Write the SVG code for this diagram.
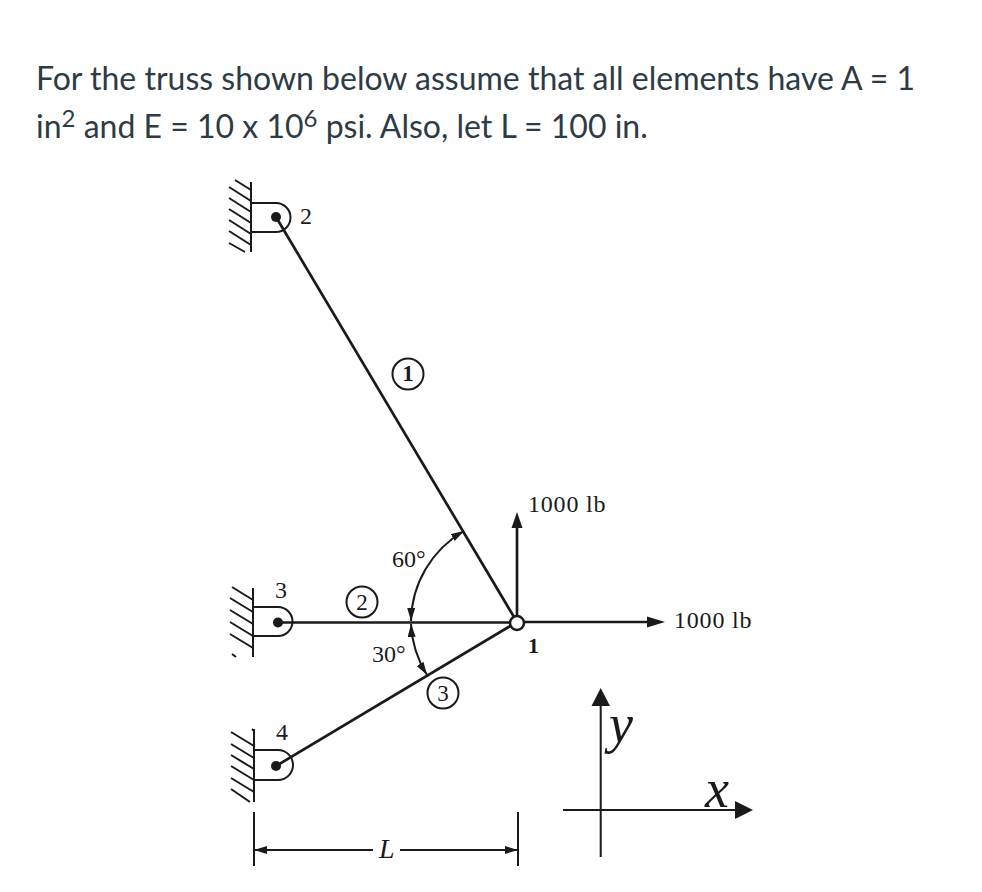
<svg xmlns="http://www.w3.org/2000/svg" width="982" height="892" viewBox="0 0 982 892">
<style>
.h{font-family:Lato,"Liberation Sans",sans-serif;font-size:32px;fill:#2d3b45}
.s{font-family:"Liberation Serif",serif;fill:#1a1a1a}
.n{font-size:24px}
.c{font-size:23px;text-anchor:middle}
.i{font-style:italic}
.l{fill:none;stroke:#1a1a1a;stroke-width:2.700}
.t{fill:none;stroke:#1a1a1a;stroke-width:2}
.o{fill:#fff;stroke:#1a1a1a;stroke-width:2.500}
.a{fill:#1a1a1a;stroke:none}
.hatch{stroke:#1a1a1a;stroke-width:2;fill:none}
</style>
<defs>
<marker id="ah" markerWidth="14" markerHeight="10" refX="13" refY="4" orient="auto-start-reverse" markerUnits="userSpaceOnUse"><path d="M0 0L13 4L0 8z" fill="#1a1a1a"/></marker>
</defs>
<rect width="982" height="892" fill="#fff"/>
<g id="title">
<text class="h" x="36" y="90">For the truss shown below assume that all elements have A = 1</text>
<text class="h" x="36" y="138">in<tspan font-size="24" dy="-11">2</tspan><tspan dy="11"> and E = 10 x 10</tspan><tspan font-size="24" dy="-11">6</tspan><tspan dy="11"> psi. Also, let L = 100 in.</tspan></text>
</g>
<g id="connectors">
<path class="l" d="M276 217L517 622"/>
<path class="l" d="M278 622.500H517"/>
<path class="l" d="M276 766L517 622"/>
<path class="l" d="M517 622V525"/>
<path class="a" d="M517 512L522.500 528H511.500z"/>
<path class="l" d="M517 622H650"/>
<path class="a" d="M665 622L647 616.500V627.500z"/>
<path class="t" marker-start="url(#ah)" marker-end="url(#ah)" d="M411 621A106 106 0 0 1 464 531"/>
<path class="t" marker-start="url(#ah)" marker-end="url(#ah)" d="M411 624A106 106 0 0 0 427 675"/>
<path class="t" marker-start="url(#ah)" d="M254 850H373"/>
<path class="t" marker-end="url(#ah)" d="M400 850H518"/>
<path class="t" d="M254 812V866M518 812V866"/>
<path class="t" d="M600.700 700V857M563 810H740"/>
<path class="a" d="M600.700 688L610 706H591.500z"/>
<path class="a" d="M753 810L735 801V819z"/>
</g>
<g id="node-2">
<path class="hatch" stroke-width="2.500" d="M251 182V252M235 180L251 190M229 187L251 201M229 198L251 212M229 209L251 223M229 220L251 234M229 231L251 245M229 243L245 252"/>
<path class="t" d="M251 203H276A14.500 14.500 0 0 1 276 232H251"/>
<circle class="a" cx="276" cy="217" r="5"/>
<text class="s n" x="300" y="224" font-size="25">2</text>
</g>
<g id="node-3">
<path class="hatch" d="M253 588V657M232 587L253 600M230 598L253 612M230 610L253 624M230 622L253 636M230 634L253 648M232 654L236 657"/>
<path class="t" d="M253 607H278A14.500 14.500 0 0 1 278 636H253"/>
<circle class="a" cx="278" cy="622.500" r="5"/>
<text class="s n" x="275" y="598">3</text>
</g>
<g id="node-4">
<path class="hatch" d="M254 729V802M252 729L254 731M231 732L254 746M231 744L254 758M231 766L254 780M231 755L254 769M231 778L254 792M231 789L250 802"/>
<path class="t" d="M254 750H278A15 15 0 0 1 278 780H254"/>
<circle class="a" cx="276" cy="766" r="5"/>
<text class="s n" x="276" y="740">4</text>
</g>
<g id="node-1">
<circle class="o" cx="517" cy="623" r="7"/>
<text class="s" font-size="22" x="528" y="653" font-weight="bold">1</text>
</g>
<g id="member-1"><circle class="t" cx="408" cy="374" r="15.500"/><text class="s c" x="408" y="381" font-weight="bold">1</text></g>
<g id="member-2"><circle class="t" cx="362" cy="602" r="15.500"/><text class="s c" x="362" y="610">2</text></g>
<g id="member-3"><circle class="t" cx="443" cy="693" r="15.500"/><text class="s c" x="443" y="701">3</text></g>
<g id="labels">
<text class="s n" x="392" y="567">60°</text>
<text class="s n" x="372" y="662">30°</text>
<text class="s n" x="528" y="512" letter-spacing="0.800">1000 lb</text>
<text class="s n" x="674" y="628" letter-spacing="0.800">1000 lb</text>
<text class="s i" font-size="28" x="379" y="858">L</text>
<text class="s i" font-size="54" x="609" y="742">y</text>
<text class="s i" font-size="54" x="705" y="807">x</text>
</g>
</svg>
